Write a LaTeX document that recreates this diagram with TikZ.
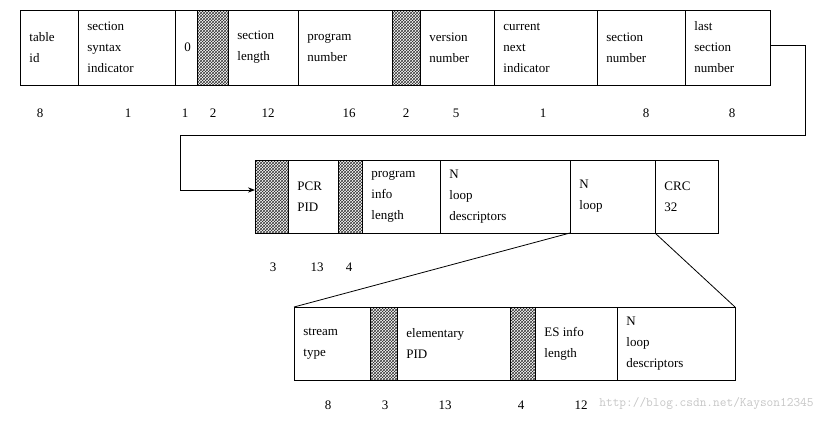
\documentclass[tikz,border=0pt]{standalone}
\usepackage{fontspec}
\setmainfont{Liberation Serif}
\usetikzlibrary{patterns,arrows.meta}
\begin{document}
\begin{tikzpicture}[x=1pt,y=-1pt,line width=0.8pt,
  lbl/.style={anchor=west,align=left,font=\fontsize{13}{21}\selectfont,inner sep=0pt},
  num/.style={font=\fontsize{13}{15}\selectfont,inner sep=0pt},
  hat/.style={draw,pattern=crosshatch,pattern color=black!80}]
\useasboundingbox (0,0) rectangle (824,421);
\newcommand{\fbx}[5]{\draw (#1,#3) rectangle (#2,#4); \node[lbl] at (#1+9,{(#3+#4)/2}) {#5};}
\newcommand{\hbx}[4]{\draw[hat] (#1,#3) rectangle (#2,#4);}
% row 1
\fbx{20}{78}{10}{85}{table\\id}
\fbx{78}{175}{10}{85}{section\\syntax\\indicator}
\fbx{175}{197}{10}{85}{0}
\hbx{197}{228}{10}{85}
\fbx{228}{298}{10}{85}{section\\length}
\fbx{298}{392}{10}{85}{program\\number}
\hbx{392}{420}{10}{85}
\fbx{420}{494}{10}{85}{version\\number}
\fbx{494}{597}{10}{85}{current\\next\\indicator}
\fbx{597}{685}{10}{85}{section\\number}
\fbx{685}{770}{10}{85}{last\\section\\number}
\foreach \x/\t in {40/8,128/1,185/1,213/2,268/12,349/16,406/2,456/5,543/1,646/8,732/8}
  \node[num] at (\x,113) {\t};
% connector
\coordinate (s) at (770,45);
\coordinate (e) at (255,190);
\draw[-{Stealth[length=7pt]}] (s) -- (805,45) -- (805,135) -- (180,135) -- (180,190) -- (e);
% row 2
\hbx{255}{288}{160}{233}
\fbx{288}{338}{160}{233}{PCR\\PID}
\hbx{338}{362}{160}{233}
\fbx{362}{440}{160}{233}{program\\info\\length}
\fbx{440}{570}{160}{233}{N\\loop\\descriptors}
\fbx{570}{655}{160}{233}{N\\loop}
\fbx{655}{718}{160}{233}{CRC\\32}
\foreach \x/\t in {273/3,317/13,349/4}
  \node[num] at (\x,267) {\t};
\draw (570,233) -- (294,307);
\draw (655,233) -- (735,307);
% row 3
\fbx{294}{370}{307}{380}{stream\\type}
\hbx{370}{397}{307}{380}
\fbx{397}{510}{307}{380}{elementary\\PID}
\hbx{510}{535}{307}{380}
\fbx{535}{617}{307}{380}{ES info\\length}
\fbx{617}{735}{307}{380}{N\\loop\\descriptors}
\foreach \x/\t in {328/8,385/3,445/13,521/4,581/12}
  \node[num] at (\x,405) {\t};
\node[font=\fontsize{13}{15}\ttfamily, text=gray!45, anchor=east,inner sep=0pt] at (814,403) {http://blog.csdn.net/Kayson12345};
\end{tikzpicture}
\end{document}
